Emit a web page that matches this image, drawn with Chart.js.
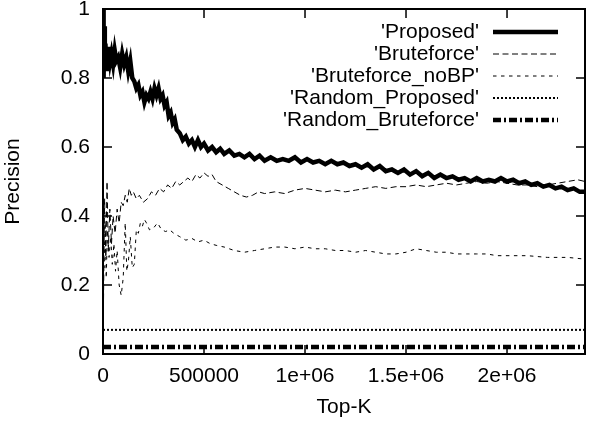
<!DOCTYPE html>
<html>
<head>
<meta charset="utf-8">
<script src="https://cdn.jsdelivr.net/npm/chart.js@4.4.1/dist/chart.umd.min.js"></script>
<style>
  html, body { margin: 0; padding: 0; background: #fff; }
  #wrap { width: 589px; height: 424px; }
</style>
</head>
<body>
<div id="wrap"><canvas id="precisionChart" width="589" height="424"></canvas></div>
<script>
const seriesNames = ["'Proposed'", "'Bruteforce'", "'Bruteforce_noBP'", "'Random_Proposed'", "'Random_Bruteforce'"];

// Top-K / precision
const proposedK = [0, 3000, 6000, 9000, 12000, 16000, 20000, 25000, 30000, 36000, 42000, 50000, 58000, 66000, 75000,
  85000, 95000, 105000, 115000, 125000, 135000, 145000, 155000, 165000, 175000, 185000, 195000, 205000, 215000,
  225000, 235000, 245000, 255000, 265000, 275000, 285000, 295000, 305000, 315000, 325000, 335000, 345000, 355000,
  365000, 380000, 395000, 410000, 425000, 440000, 455000, 470000, 485000, 500000, 520000, 540000, 560000, 580000,
  600000, 625000, 650000, 675000, 700000, 725000, 750000, 775000, 800000, 830000, 860000, 890000, 920000, 950000,
  980000, 1010000, 1040000, 1070000, 1100000, 1130000, 1160000, 1190000, 1220000, 1250000, 1280000, 1310000,
  1340000, 1370000, 1400000, 1430000, 1460000, 1490000, 1520000, 1550000, 1580000, 1610000, 1640000, 1670000,
  1700000, 1730000, 1760000, 1790000, 1820000, 1850000, 1880000, 1910000, 1940000, 1970000, 2000000, 2030000,
  2060000, 2090000, 2120000, 2150000, 2180000, 2210000, 2240000, 2270000, 2300000, 2330000, 2360000, 2386000];
const proposedPrecision = [1.00, 0.80, 0.95, 0.82, 0.90, 0.84, 0.88, 0.82, 0.89, 0.85, 0.87, 0.84, 0.88, 0.85, 0.86,
  0.83, 0.87, 0.84, 0.86, 0.82, 0.85, 0.80, 0.79, 0.77, 0.78, 0.75, 0.76, 0.73, 0.75,
  0.74, 0.76, 0.74, 0.77, 0.75, 0.77, 0.74, 0.75, 0.72, 0.73, 0.69, 0.70, 0.67, 0.68,
  0.65, 0.64, 0.62, 0.63, 0.61, 0.62, 0.60, 0.62, 0.60, 0.61, 0.59, 0.60, 0.585, 0.595,
  0.58, 0.59, 0.575, 0.58, 0.57, 0.58, 0.565, 0.575, 0.56, 0.57, 0.56, 0.565, 0.56, 0.57,
  0.555, 0.565, 0.555, 0.56, 0.55, 0.56, 0.55, 0.555, 0.545, 0.55, 0.54, 0.55,
  0.535, 0.545, 0.53, 0.535, 0.525, 0.535, 0.52, 0.53, 0.515, 0.525, 0.51, 0.52,
  0.51, 0.515, 0.505, 0.51, 0.50, 0.51, 0.50, 0.505, 0.50, 0.51, 0.50, 0.505,
  0.495, 0.50, 0.49, 0.495, 0.485, 0.49, 0.48, 0.485, 0.475, 0.48, 0.47, 0.47];

const bruteK = [0, 8000, 14000, 20000, 26000, 34000, 42000, 50000, 60000, 70000, 80000, 90000, 100000, 110000,
  120000, 130000, 140000, 150000, 165000, 180000, 200000, 220000, 240000, 260000, 280000, 300000, 320000, 340000,
  360000, 380000, 400000, 420000, 440000, 460000, 480000, 500000, 520000, 540000, 560000, 590000, 620000, 650000,
  680000, 710000, 740000, 770000, 800000, 850000, 900000, 950000, 1000000, 1050000, 1100000, 1150000, 1200000,
  1250000, 1300000, 1350000, 1400000, 1450000, 1500000, 1550000, 1600000, 1650000, 1700000, 1750000, 1800000,
  1850000, 1900000, 1950000, 2000000, 2050000, 2100000, 2150000, 2200000, 2250000, 2300000, 2350000, 2386000];
const brutePrecision = [0.02, 0.45, 0.28, 0.50, 0.30, 0.42, 0.32, 0.40, 0.35, 0.42, 0.38, 0.44, 0.43, 0.46,
  0.44, 0.48, 0.46, 0.47, 0.45, 0.46, 0.44, 0.45, 0.47, 0.46, 0.48, 0.47, 0.49, 0.48,
  0.50, 0.49, 0.50, 0.51, 0.50, 0.52, 0.51, 0.525, 0.515, 0.52, 0.50, 0.49, 0.48, 0.47,
  0.46, 0.455, 0.46, 0.47, 0.465, 0.47, 0.465, 0.475, 0.48, 0.475, 0.47, 0.475, 0.47,
  0.475, 0.48, 0.485, 0.48, 0.485, 0.485, 0.49, 0.485, 0.49, 0.495, 0.49, 0.495,
  0.50, 0.495, 0.50, 0.495, 0.49, 0.49, 0.485, 0.49, 0.495, 0.50, 0.505, 0.50];

const noBpK = [0, 5000, 10000, 16000, 22000, 30000, 38000, 46000, 54000, 62000, 70000, 80000, 90000, 100000,
  110000, 118000, 126000, 135000, 145000, 155000, 165000, 175000, 185000, 195000, 205000, 215000, 230000, 250000,
  270000, 290000, 310000, 330000, 350000, 380000, 410000, 440000, 470000, 500000, 530000, 560000, 600000, 650000,
  700000, 750000, 800000, 850000, 900000, 950000, 1000000, 1050000, 1100000, 1150000, 1200000, 1250000, 1300000,
  1350000, 1400000, 1450000, 1500000, 1550000, 1600000, 1650000, 1700000, 1750000, 1800000, 1850000, 1900000,
  1950000, 2000000, 2100000, 2200000, 2300000, 2386000];
const noBpPrecision = [0.30, 0.25, 0.38, 0.22, 0.36, 0.28, 0.34, 0.26, 0.32, 0.24, 0.30, 0.20, 0.17, 0.22,
  0.38, 0.24, 0.27, 0.34, 0.25, 0.26, 0.36, 0.35, 0.38, 0.37, 0.39, 0.38, 0.36, 0.365,
  0.38, 0.36, 0.355, 0.36, 0.35, 0.34, 0.33, 0.335, 0.325, 0.33, 0.32, 0.315, 0.31, 0.30,
  0.295, 0.30, 0.305, 0.31, 0.31, 0.305, 0.31, 0.305, 0.305, 0.30, 0.30, 0.295, 0.30,
  0.295, 0.29, 0.29, 0.295, 0.305, 0.30, 0.295, 0.295, 0.29, 0.29, 0.29, 0.29,
  0.285, 0.285, 0.285, 0.28, 0.28, 0.275];

const randomK = [0, 2386000];
const randomProposedPrecision = [0.07, 0.07];
const randomBrutePrecision = [0.02, 0.02];

const xTickValues = [0, 500000, 1000000, 1500000, 2000000];
const xTickLabels = ['0', '500000', '1e+06', '1.5e+06', '2e+06'];
const yTickValues = [0, 0.2, 0.4, 0.6, 0.8, 1];
const yTickLabels = ['0', '0.2', '0.4', '0.6', '0.8', '1'];

const FONT = '"Liberation Sans", Arial, Helvetica, sans-serif';
const FONT_SIZE = 21;

function toPoints(ks, ps) {
  return ks.map((k, i) => ({ x: k, y: ps[i] }));
}

// gnuplot style box with inward ticks on all four sides
const framePlugin = {
  id: 'frame',
  afterDatasetsDraw(chart) {
    const { ctx, chartArea: a, scales: { x, y } } = chart;
    const tl = 9;
    ctx.save();
    ctx.strokeStyle = '#000';
    ctx.lineWidth = 1.5;
    ctx.beginPath();
    xTickValues.forEach(v => {
      const px = x.getPixelForValue(v);
      ctx.moveTo(px, a.bottom); ctx.lineTo(px, a.bottom - tl);
      ctx.moveTo(px, a.top); ctx.lineTo(px, a.top + tl);
    });
    yTickValues.forEach(v => {
      const py = y.getPixelForValue(v);
      ctx.moveTo(a.left, py); ctx.lineTo(a.left + tl, py);
      ctx.moveTo(a.right, py); ctx.lineTo(a.right - tl, py);
    });
    ctx.stroke();
    ctx.lineWidth = 2;
    ctx.strokeRect(a.left, a.top, a.right - a.left, a.bottom - a.top);
    ctx.restore();
  }
};

// key in the top right corner: text right aligned, line sample after it
const keyPlugin = {
  id: 'key',
  afterDraw(chart) {
    const ctx = chart.ctx;
    const textRight = 479, lineStart = 493, lineEnd = 558;
    ctx.save();
    ctx.font = FONT_SIZE + 'px ' + FONT;
    ctx.textAlign = 'right';
    ctx.textBaseline = 'middle';
    chart.data.datasets.forEach((ds, i) => {
      const rowY = 32 + i * 22;
      ctx.fillStyle = '#000';
      ctx.fillText(ds.label, textRight, rowY);
      ctx.strokeStyle = ds.borderColor;
      ctx.lineWidth = ds.borderWidth;
      ctx.setLineDash(ds.borderDash || []);
      ctx.beginPath();
      ctx.moveTo(lineStart, rowY);
      ctx.lineTo(lineEnd, rowY);
      ctx.stroke();
    });
    ctx.restore();
  }
};

const styles = [
  { borderWidth: 4.5, borderDash: [], order: 5 },
  { borderWidth: 1, borderDash: [6, 3.5], order: 4 },
  { borderWidth: 1, borderDash: [3.5, 4.5], order: 3 },
  { borderWidth: 2, borderDash: [2, 2], order: 2 },
  { borderWidth: 4.5, borderDash: [8, 3, 2, 3], order: 1 }
];
const seriesPoints = [
  toPoints(proposedK, proposedPrecision),
  toPoints(bruteK, brutePrecision),
  toPoints(noBpK, noBpPrecision),
  toPoints(randomK, randomProposedPrecision),
  toPoints(randomK, randomBrutePrecision)
];

const ctx = document.getElementById('precisionChart').getContext('2d');
new Chart(ctx, {
  type: 'scatter',
  data: {
    datasets: seriesNames.map((name, i) => ({
      label: name,
      data: seriesPoints[i],
      showLine: true,
      borderColor: '#000',
      backgroundColor: '#000',
      borderWidth: styles[i].borderWidth,
      borderDash: styles[i].borderDash,
      order: styles[i].order,
      pointRadius: 0,
      tension: 0,
      fill: false
    }))
  },
  options: {
    responsive: false,
    animation: false,
    devicePixelRatio: 1,
    layout: { padding: { top: 9, right: 4, left: 0, bottom: 0 } },
    plugins: {
      legend: { display: false },
      tooltip: { enabled: false }
    },
    scales: {
      x: {
        type: 'linear',
        min: 0,
        max: 2386000,
        grid: { display: false, drawTicks: false },
        border: { display: false },
        afterBuildTicks: scale => { scale.ticks = xTickValues.map(v => ({ value: v })); },
        afterFit: scale => { scale.height = 70; scale.paddingLeft = 0; scale.paddingRight = 0; },
        ticks: {
          color: '#000',
          padding: 10,
          maxRotation: 0,
          autoSkip: false,
          font: { family: FONT, size: FONT_SIZE },
          callback: value => xTickLabels[xTickValues.indexOf(value)]
        },
        title: {
          display: true,
          text: 'Top-K',
          color: '#000',
          padding: { top: 0, bottom: 4 },
          font: { family: FONT, size: FONT_SIZE }
        }
      },
      y: {
        type: 'linear',
        min: 0,
        max: 1,
        grid: { display: false, drawTicks: false },
        border: { display: false },
        afterBuildTicks: scale => { scale.ticks = yTickValues.map(v => ({ value: v })); },
        afterFit: scale => { scale.width = 103; scale.paddingTop = 0; scale.paddingBottom = 0; },
        ticks: {
          color: '#000',
          padding: 13,
          autoSkip: false,
          font: { family: FONT, size: FONT_SIZE },
          callback: value => yTickLabels[yTickValues.indexOf(value)]
        },
        title: {
          display: true,
          text: 'Precision',
          color: '#000',
          padding: { top: 1, bottom: 0 },
          font: { family: FONT, size: FONT_SIZE }
        }
      }
    }
  },
  plugins: [framePlugin, keyPlugin]
});
</script>
</body>
</html>
